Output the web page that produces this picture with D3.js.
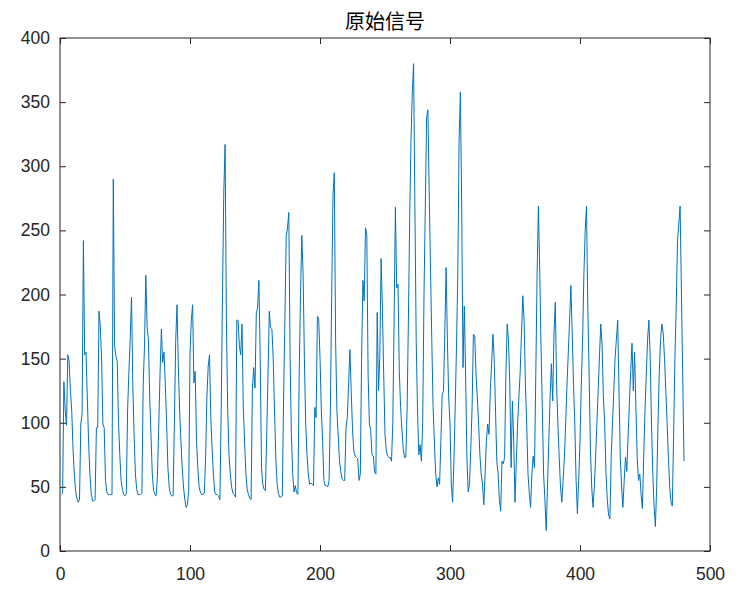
<!DOCTYPE html>
<html>
<head>
<meta charset="utf-8">
<script src="https://cdn.jsdelivr.net/npm/d3@7"></script>
<style>
  body { margin: 0; background: #fff; }
  svg { display: block; }
</style>
</head>
<body>
<svg id="chart" width="746" height="600"></svg>
<script>
var title = '原始信号';

// values, one per sample (x = 1..480)
var signal = [
  44, 45, 132, 110, 98, 153, 148, 125, 110, 80,
  60, 47, 41, 38, 40, 99, 107, 242, 153, 155,
  120, 85, 60, 45, 39, 39, 40, 96, 96, 187,
  175, 150, 99, 96, 55, 46, 44, 44, 44, 44,
  290, 160, 152, 148, 100, 75, 55, 48, 44, 43,
  45, 110, 140, 165, 198, 130, 90, 60, 48, 44,
  44, 44, 45, 130, 160, 215, 175, 165, 120, 90,
  60, 47, 44, 43, 60, 100, 140, 173, 147, 155,
  130, 100, 65, 50, 44, 43, 43, 100, 164, 192,
  145, 110, 86, 65, 50, 40, 34, 36, 47, 153,
  180, 192, 131, 140, 86, 65, 50, 46, 44, 44,
  45, 73, 120, 144, 153, 104, 80, 60, 46, 44,
  44, 43, 40, 110, 200, 280, 317, 180, 110, 75,
  60, 50, 45, 44, 42, 180, 180, 160, 153, 177,
  112, 85, 60, 48, 44, 41, 40, 127, 143, 127,
  185, 190, 211, 151, 65, 52, 48, 47, 90, 138,
  187, 174, 173, 150, 110, 73, 52, 45, 42, 42,
  43, 120, 180, 245, 252, 264, 150, 90, 60, 46,
  51, 45, 44, 138, 200, 246, 216, 150, 99, 75,
  60, 52, 53, 52, 51, 112, 104, 183, 181, 151,
  110, 86, 55, 51, 51, 50, 55, 112, 200, 278,
  295, 164, 110, 90, 70, 62, 56, 55, 55, 96,
  104, 130, 157, 125, 95, 78, 74, 73, 72, 55,
  60, 150, 211, 195, 252, 247, 138, 99, 94, 75,
  74, 62, 60, 186, 125, 151, 228, 190, 138, 91,
  78, 74, 73, 73, 70, 100, 180, 268, 205, 208,
  140, 112, 95, 80, 73, 73, 110, 180, 260, 320,
  358, 380, 268, 164, 110, 75, 83, 70, 100, 200,
  268, 338, 344, 280, 220, 164, 112, 85, 60, 50,
  57, 52, 86, 122, 125, 170, 221, 164, 120, 99,
  52, 38, 70, 112, 160, 216, 320, 358, 268, 143,
  191, 138, 73, 46, 52, 80, 112, 169, 168, 138,
  120, 99, 75, 60, 52, 36, 60, 86, 99, 91,
  125, 146, 169, 150, 110, 70, 60, 40, 31, 70,
  68, 73, 138, 177, 164, 130, 65, 117, 86, 38,
  70, 99, 120, 140, 170, 199, 180, 130, 99, 60,
  45, 34, 60, 74, 65, 138, 216, 269, 220, 160,
  112, 60, 40, 16, 50, 86, 120, 146, 117, 170,
  194, 130, 99, 73, 50, 38, 55, 73, 100, 130,
  155, 180, 207, 170, 130, 99, 55, 29, 55, 86,
  130, 164, 216, 250, 269, 190, 138, 80, 50, 34,
  50, 73, 100, 125, 153, 177, 160, 120, 99, 60,
  40, 28, 25, 73, 100, 125, 151, 165, 180, 125,
  73, 50, 34, 55, 73, 62, 90, 115, 140, 162,
  125, 155, 112, 73, 55, 60, 44, 33, 73, 110,
  138, 165, 180, 151, 99, 60, 35, 19, 50, 100,
  140, 165, 177, 170, 150, 125, 100, 73, 50, 38,
  35, 90, 150, 190, 242, 255, 269, 203, 138, 70
];

var xTicks = [0, 100, 200, 300, 400, 500];
var yTicks = [0, 50, 100, 150, 200, 250, 300, 350, 400];

var margin = {top: 38, right: 36, bottom: 49, left: 60},
    width = 746 - margin.left - margin.right,
    height = 600 - margin.top - margin.bottom,
    axisColor = '#262626',
    lineColor = '#0072bd';

var svg = d3.select('#chart');
var g = svg.append('g')
    .attr('transform', 'translate(' + margin.left + ',' + margin.top + ')');

var x = d3.scaleLinear().domain([0, 500]).range([0, width]),
    y = d3.scaleLinear().domain([0, 400]).range([height, 0]);

// data line first, box and ticks drawn on top
var line = d3.line()
    .x(function (d, i) { return x(i + 1); })
    .y(function (d) { return y(d); });

g.append('path')
    .datum(signal)
    .attr('fill', 'none')
    .attr('stroke', lineColor)
    .attr('stroke-width', 1)
    .attr('stroke-linejoin', 'round')
    .attr('d', line);

// ticks point inward on all four sides, labels only bottom and left
function styleAxis(sel) {
    sel.select('.domain').remove();
    sel.selectAll('line').attr('stroke', axisColor);
    sel.selectAll('text')
        .attr('fill', axisColor)
        .style('font-family', '"Liberation Sans", Arial, sans-serif')
        .style('font-size', '17.5px');
}

g.append('g')
    .attr('transform', 'translate(0,' + height + ')')
    .call(d3.axisBottom(x).tickValues(xTicks).tickSizeInner(-6).tickSizeOuter(0).tickPadding(17))
    .call(styleAxis);

g.append('g')
    .call(d3.axisLeft(y).tickValues(yTicks).tickSizeInner(-6).tickSizeOuter(0).tickPadding(10))
    .call(styleAxis);

g.append('g')
    .call(d3.axisTop(x).tickValues(xTicks).tickSizeInner(-6).tickSizeOuter(0).tickFormat(''))
    .call(styleAxis);

g.append('g')
    .attr('transform', 'translate(' + width + ',0)')
    .call(d3.axisRight(y).tickValues(yTicks).tickSizeInner(-6).tickSizeOuter(0).tickFormat(''))
    .call(styleAxis);

g.append('rect')
    .attr('x', 0)
    .attr('y', 0)
    .attr('width', width)
    .attr('height', height)
    .attr('fill', 'none')
    .attr('stroke', axisColor)
    .attr('stroke-width', 1);

svg.append('text')
    .attr('x', margin.left + width / 2)
    .attr('y', 29)
    .attr('text-anchor', 'middle')
    .attr('fill', '#000')
    .style('font-family', '"Noto Sans CJK SC", sans-serif')
    .style('font-size', '20px')
    .text(title);
</script>
</body>
</html>
